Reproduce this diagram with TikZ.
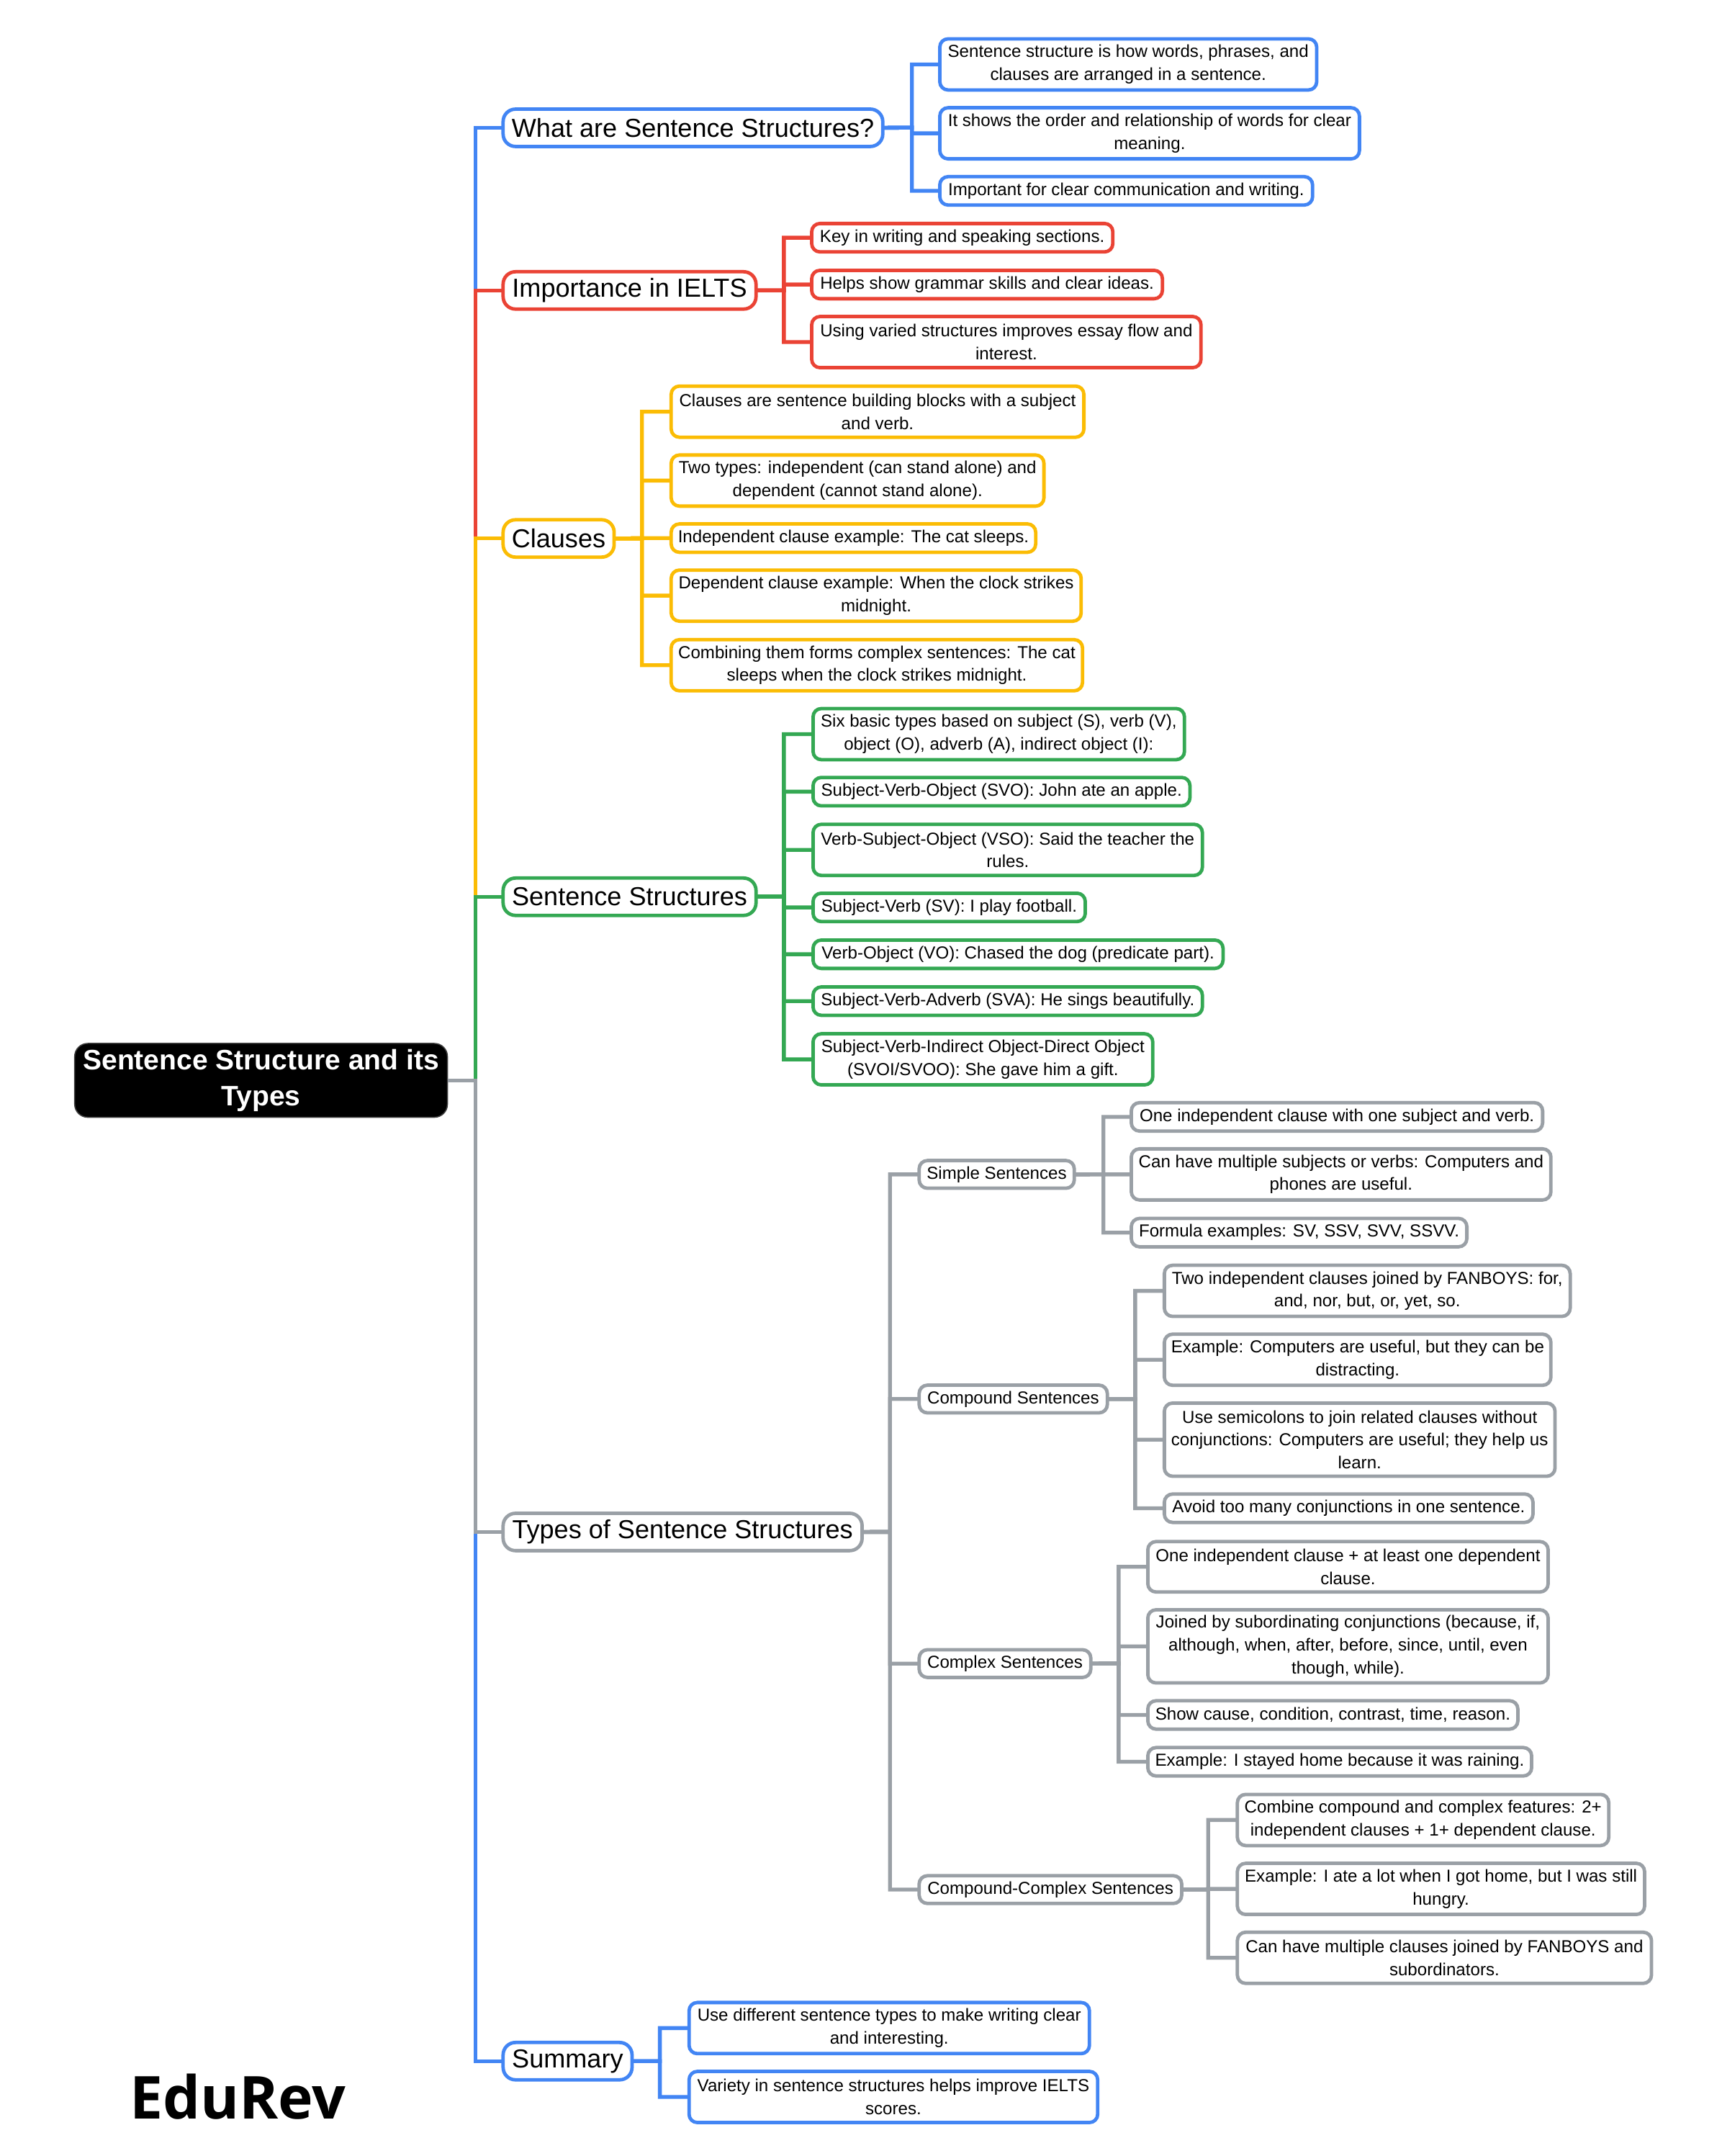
\documentclass[tikz,border=0pt]{standalone}
\usepackage{fontspec}
\setmainfont{Liberation Sans}
\newfontfamily\logofont{Open Sans}
\definecolor{cblue}{HTML}{4285F4}
\definecolor{cred}{HTML}{EA4335}
\definecolor{cyellow}{HTML}{FBBC04}
\definecolor{cgreen}{HTML}{34A853}
\definecolor{cgrey}{HTML}{9AA0A6}
\definecolor{cglass}{HTML}{CFE9F7}
\tikzset{
  basebox/.style={rectangle,align=center,inner sep=0pt,outer sep=0pt,fill=white},
  rootbox/.style={basebox,fill=black,draw=black!75,line width=0.8pt,rounded corners=9.5pt,text=white,font=\fontsize{20.4}{26}\selectfont\bfseries},
  topbox/.style={basebox,draw=#1,line width=2.5pt,rounded corners=9pt,text=black,font=\fontsize{18.85}{24}\selectfont},
  leafbox/.style={basebox,draw=#1,line width=2.5pt,rounded corners=6pt,text=black,font=\fontsize{12.6}{16.5}\selectfont},
  link/.style={draw=#1,line width=2.8pt,line join=miter},
}
% style, name, x1, y1, x2, y2, text
\newcommand{\bx}[7]{\node[#1,minimum width={(#5-#3-2.4)*1pt},minimum height={(#6-#4-2.4)*1pt}] (#2) at ({(#3+#5)/2},{(#4+#6)/2}) {#7};}
% colour, bus coordinate, parent, child
\newcommand{\lnk}[4]{\draw[link=#1] (#3.east) -- (#2) |- (#4.west);}
\begin{document}
\begin{tikzpicture}[x=1pt,y=-1pt]
\useasboundingbox (0,0) rectangle (1250,1564.6);
\fill[white] (0,0) rectangle (1250,1564.6);

\bx{rootbox}{root}{53}{756}{326}{812}{Sentence Structure and its\\Types}

\bx{topbox=cblue}{what}{364}{78}{642}{107.5}{What are Sentence Structures?}
\bx{topbox=cred}{imp}{364}{196}{550}{225.5}{Importance in IELTS}
\bx{topbox=cyellow}{cla}{364}{376}{447}{405.5}{Clauses}
\bx{topbox=cgreen}{str}{364}{636}{550}{665.5}{Sentence Structures}
\bx{topbox=cgrey}{typ}{364}{1097}{627}{1126.5}{Types of Sentence Structures}
\bx{topbox=cblue}{sum}{364}{1481}{460}{1510.5}{Summary}

\bx{leafbox=cblue}{w1}{681}{27}{957}{66.5}{Sentence structure is how words, phrases, and\\clauses are arranged in a sentence.}
\bx{leafbox=cblue}{w2}{681}{77}{988}{116.5}{It shows the order and relationship of words for clear\\meaning.}
\bx{leafbox=cblue}{w3}{681}{127}{954}{150}{Important for clear communication and writing.}

\bx{leafbox=cred}{i1}{588}{161}{809}{184}{Key in writing and speaking sections.}
\bx{leafbox=cred}{i2}{588}{195}{845}{218}{Helps show grammar skills and clear ideas.}
\bx{leafbox=cred}{i3}{588}{228.5}{873}{268}{Using varied structures improves essay flow and\\interest.}

\bx{leafbox=cyellow}{c1}{486}{279}{788}{318.5}{Clauses are sentence building blocks with a subject\\and verb.}
\bx{leafbox=cyellow}{c2}{486}{329}{759}{368.5}{Two types: independent (can stand alone) and\\dependent (cannot stand alone).}
\bx{leafbox=cyellow}{c3}{486}{379}{753}{402}{Independent clause example: The cat sleeps.}
\bx{leafbox=cyellow}{c4}{486}{412.5}{786}{452}{Dependent clause example: When the clock strikes\\midnight.}
\bx{leafbox=cyellow}{c5}{486}{463}{787}{502.5}{Combining them forms complex sentences: The cat\\sleeps when the clock strikes midnight.}

\bx{leafbox=cgreen}{s1}{589}{513}{861}{552.5}{Six basic types based on subject (S), verb (V),\\object (O), adverb (A), indirect object (I):}
\bx{leafbox=cgreen}{s2}{589}{563}{865}{586}{Subject-Verb-Object (SVO): John ate an apple.}
\bx{leafbox=cgreen}{s3}{589}{597}{874}{636.5}{Verb-Subject-Object (VSO): Said the teacher the\\rules.}
\bx{leafbox=cgreen}{s4}{589}{647}{789}{670}{Subject-Verb (SV): I play football.}
\bx{leafbox=cgreen}{s5}{589}{681}{889}{704}{Verb-Object (VO): Chased the dog (predicate part).}
\bx{leafbox=cgreen}{s6}{589}{715}{874}{738}{Subject-Verb-Adverb (SVA): He sings beautifully.}
\bx{leafbox=cgreen}{s7}{589}{749}{838}{788.5}{Subject-Verb-Indirect Object-Direct Object\\(SVOI/SVOO): She gave him a gift.}

\bx{leafbox=cgrey}{t1}{666}{841}{781}{863.5}{Simple Sentences}
\bx{leafbox=cgrey}{t2}{666}{1004}{805}{1026.5}{Compound Sentences}
\bx{leafbox=cgrey}{t3}{666}{1196}{793}{1218.5}{Complex Sentences}
\bx{leafbox=cgrey}{t4}{666}{1360}{859}{1382.5}{Compound-Complex Sentences}

\bx{leafbox=cgrey}{a1}{820}{799}{1121}{822}{One independent clause with one subject and verb.}
\bx{leafbox=cgrey}{a2}{820}{832.5}{1127}{872}{Can have multiple subjects or verbs: Computers and\\phones are useful.}
\bx{leafbox=cgrey}{a3}{820}{883}{1066}{906}{Formula examples: SV, SSV, SVV, SSVV.}

\bx{leafbox=cgrey}{b1}{844}{917}{1141}{956.5}{Two independent clauses joined by FANBOYS: for,\\and, nor, but, or, yet, so.}
\bx{leafbox=cgrey}{b2}{844}{967}{1127}{1006.5}{Example: Computers are useful, but they can be\\distracting.}
\bx{leafbox=cgrey}{b3}{844}{1017}{1130}{1072.5}{Use semicolons to join related clauses without\\conjunctions: Computers are useful; they help us\\learn.}
\bx{leafbox=cgrey}{b4}{844}{1083}{1114}{1106}{Avoid too many conjunctions in one sentence.}

\bx{leafbox=cgrey}{d1}{832}{1117.5}{1125}{1156.5}{One independent clause + at least one dependent\\clause.}
\bx{leafbox=cgrey}{d2}{832}{1167}{1125}{1222.5}{Joined by subordinating conjunctions (because, if,\\although, when, after, before, since, until, even\\though, while).}
\bx{leafbox=cgrey}{d3}{832}{1233}{1103}{1256}{Show cause, condition, contrast, time, reason.}
\bx{leafbox=cgrey}{d4}{832}{1267}{1113}{1290}{Example: I stayed home because it was raining.}

\bx{leafbox=cgrey}{e1}{897}{1301}{1169}{1340.5}{Combine compound and complex features: 2+\\independent clauses + 1+ dependent clause.}
\bx{leafbox=cgrey}{e2}{897}{1351}{1195}{1390.5}{Example: I ate a lot when I got home, but I was still\\hungry.}
\bx{leafbox=cgrey}{e3}{897}{1401}{1200}{1440.5}{Can have multiple clauses joined by FANBOYS and\\subordinators.}

\bx{leafbox=cblue}{u1}{499}{1452}{792}{1491.5}{Use different sentence types to make writing clear\\and interesting.}
\bx{leafbox=cblue}{u2}{499}{1502}{798}{1541.5}{Variety in sentence structures helps improve IELTS\\scores.}

% connectors, behind the boxes
\begin{scope}[on background layer/.try]
\end{scope}
\coordinate (jr) at (345,784);
\coordinate (jw) at (662,92.6);
\coordinate (ji) at (569,210.7);
\coordinate (jc) at (466,390.7);
\coordinate (js) at (569,650.7);
\coordinate (jt) at (646,1111.7);
\coordinate (ju) at (479,1495.7);
\coordinate (jt1) at (801,852.2);
\coordinate (jt2) at (824,1015.2);
\coordinate (jt3) at (812,1207.2);
\coordinate (jt4) at (877,1371.2);

\lnk{cblue}{jr}{root}{what}
\lnk{cred}{jr}{root}{imp}
\lnk{cyellow}{jr}{root}{cla}
\lnk{cgreen}{jr}{root}{str}
\lnk{cblue}{jr}{root}{sum}
\lnk{cgrey}{jr}{root}{typ}

\foreach \c in {w1,w2,w3} {\lnk{cblue}{jw}{what}{\c}}
\foreach \c in {i1,i2,i3} {\lnk{cred}{ji}{imp}{\c}}
\foreach \c in {c1,c2,c3,c4,c5} {\lnk{cyellow}{jc}{cla}{\c}}
\foreach \c in {s1,s2,s3,s4,s5,s6,s7} {\lnk{cgreen}{js}{str}{\c}}
\foreach \c in {t1,t2,t3,t4} {\lnk{cgrey}{jt}{typ}{\c}}
\foreach \c in {a1,a2,a3} {\lnk{cgrey}{jt1}{t1}{\c}}
\foreach \c in {b1,b2,b3,b4} {\lnk{cgrey}{jt2}{t2}{\c}}
\foreach \c in {d1,d2,d3,d4} {\lnk{cgrey}{jt3}{t3}{\c}}
\foreach \c in {e1,e2,e3} {\lnk{cgrey}{jt4}{t4}{\c}}
\foreach \c in {u1,u2} {\lnk{cblue}{ju}{sum}{\c}}

% logo, in a frame fitted to the picture's scale
\begin{scope}[x=0.2334pt,y=-0.1742pt,shift={(0,-8252)}]
  \fill[black] (108,347) -- (222,285) -- (372,308) -- (300,393) -- (225,368) -- cycle;
  \draw[black,line width=0.7pt] (108,347) -- (108,425);
  \fill[black] (108,418) .. controls (98,430) and (100,440) .. (108,462) .. controls (118,440) and (122,430) .. (108,418) -- cycle;
  \fill[black] (153,358) -- (225,375) -- (300,400) -- (333,358) -- (330,412) -- (155,412) -- cycle;
  \draw[white,line width=0.7pt] (187,402) .. controls (195,382) and (220,376) .. (235,384);
  \draw[white,line width=0.7pt] (250,402) .. controls (258,392) and (272,392) .. (282,400);
  \draw[black,fill=cglass,line width=1.1pt,rounded corners=2pt] (150,420) rectangle (336,505);
  \draw[black,line width=1.1pt,rounded corners=3pt] (237,510) -- (160,510) -- (151,525) -- (151,585) -- (160,597) -- (237,597);
  \draw[black,line width=1.1pt,rounded corners=3pt] (250,510) -- (325,510) -- (336,525) -- (336,585) -- (330,597);
  \draw[black,line width=1pt] (243,412) -- (243,600);
  \fill[black] (220,467) ellipse [x radius=12,y radius=20];
  \fill[black] (263,470) ellipse [x radius=10,y radius=17];
  \fill[white] (190,463) circle [x radius=8,y radius=10];
  \fill[white] (295,463) circle [x radius=8,y radius=10];
  \draw[black,line width=1pt] (215,543) .. controls (235,565) and (255,560) .. (276,535);
\end{scope}
\node[anchor=base west,inner sep=0pt,font=\logofont\fontsize{43}{43}\selectfont\bfseries] (logo) at (94,1537.5) {EduRev};
\end{tikzpicture}
\end{document}
